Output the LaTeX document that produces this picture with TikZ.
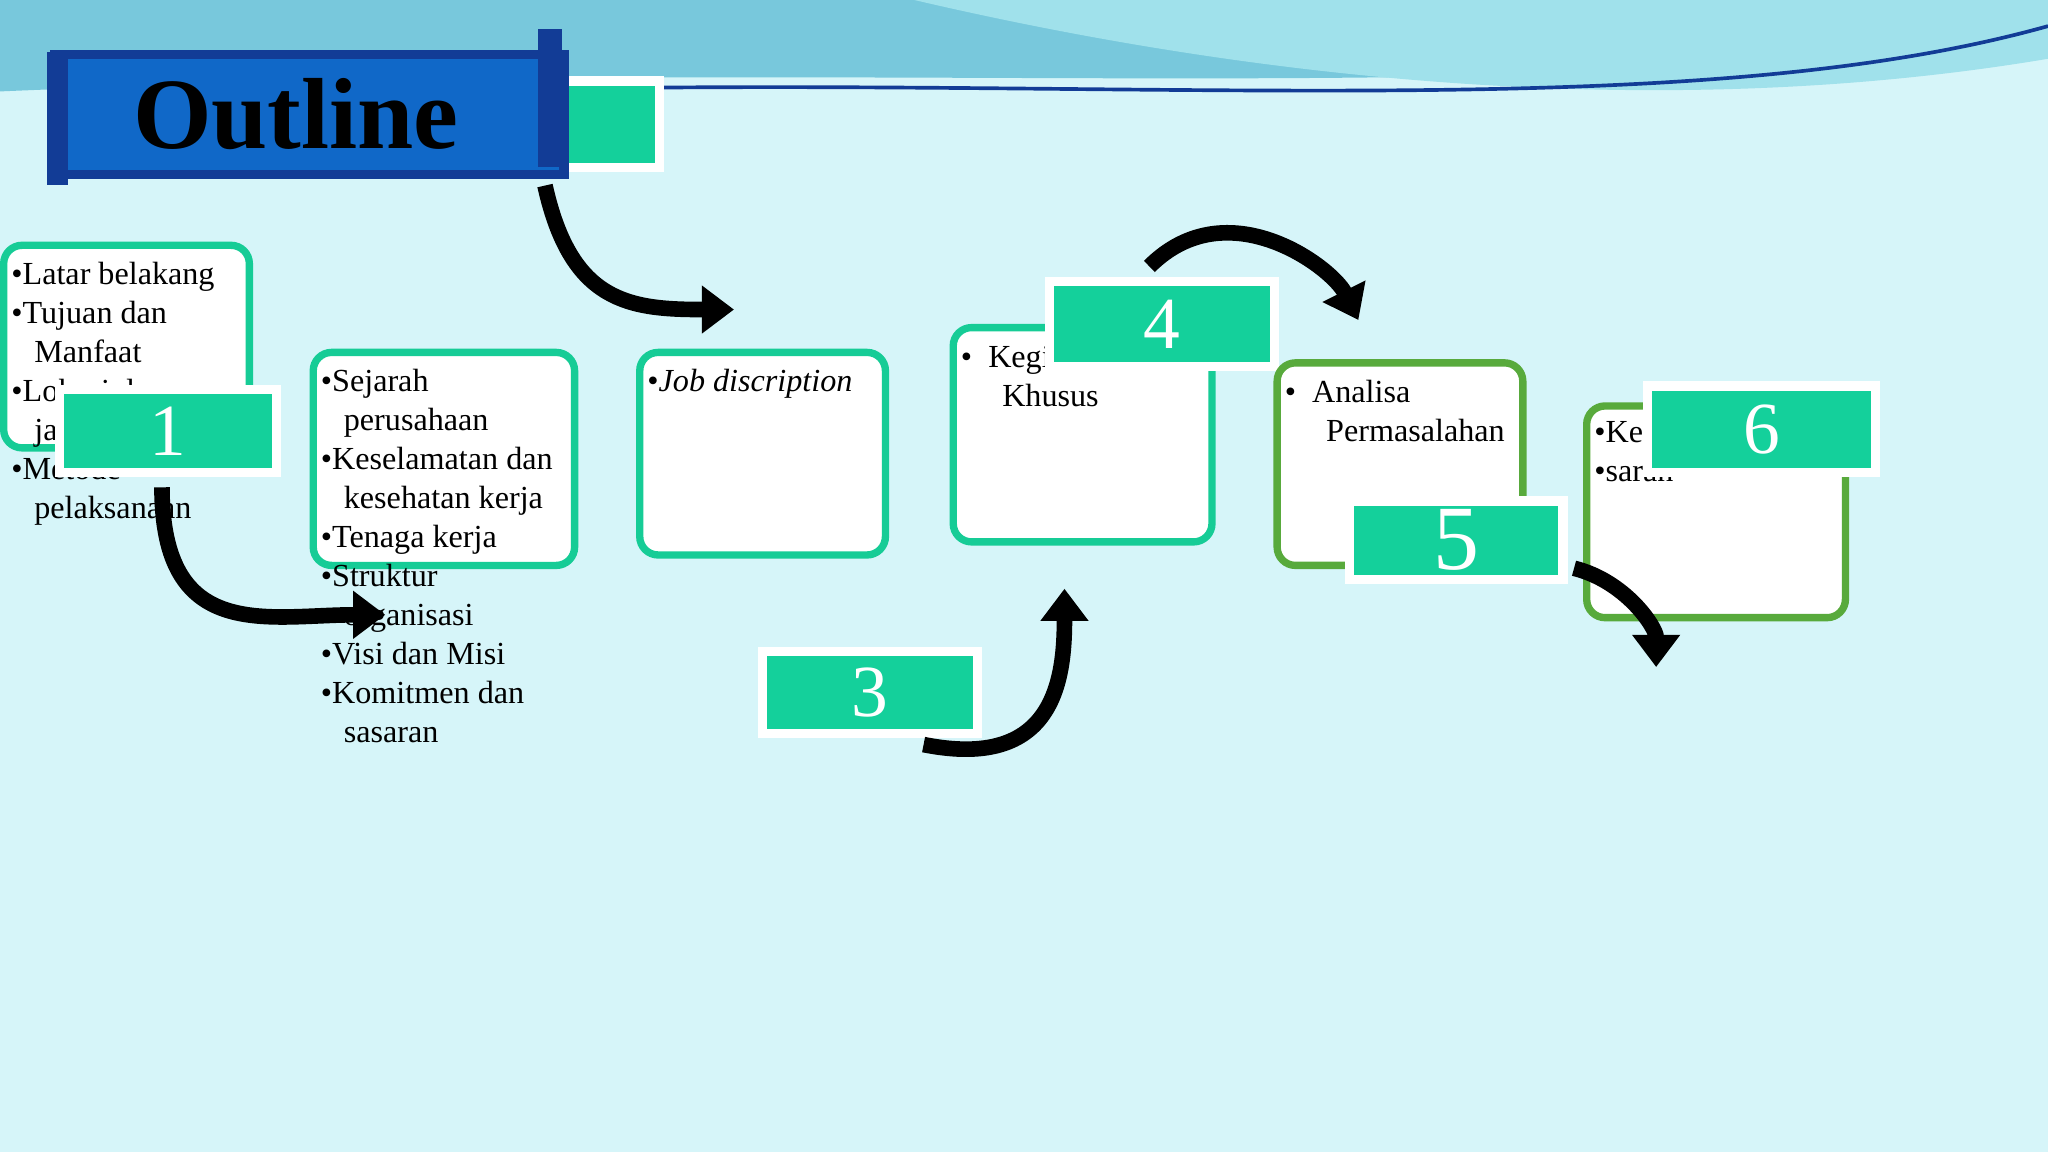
\documentclass[tikz,border=0pt]{standalone}
\usepackage{fontspec}
\setmainfont{Liberation Serif}
\usetikzlibrary{arrows.meta,positioning,calc}
\definecolor{bgcyan}{RGB}{214,245,249}
\definecolor{tealline}{RGB}{22,204,150}
\definecolor{greenline}{RGB}{88,170,60}
\definecolor{labelgreen}{RGB}{20,208,155}
\definecolor{bannerblue}{RGB}{16,104,200}
\definecolor{darkblue}{RGB}{18,60,150}
\definecolor{wavea}{RGB}{120,200,220}
\definecolor{waveb}{RGB}{160,225,235}
\tikzset{
  box/.style={draw=tealline,line width=1.6pt,fill=white,rounded corners=4pt,anchor=north west,inner sep=0pt},
  numlabel/.style={fill=labelgreen,draw=white,line width=2pt,text=white,font=\fontsize{16}{16}\selectfont,anchor=north west,inner sep=0pt},
  items/.style={anchor=north west,align=left,font=\fontsize{7}{8.5}\selectfont,inner sep=0pt},
  bend arrow/.style={line width=3.4pt,-{Triangle[length=7pt,width=10pt]}}
}
\newcommand{\ind}{\hspace*{5pt}}
\begin{document}
\begin{tikzpicture}[x=0.01cm,y=-0.01cm]
\fill[bgcyan] (0,0) rectangle (1568,882);
\useasboundingbox (0,0) rectangle (1568,882);
% waves on top
\fill[wavea] (0,0) -- (1568,0) -- (1568,20) .. controls (1200,90) and (700,40) .. (0,70) -- cycle;
\fill[waveb] (700,0) -- (1568,0) -- (1568,45) .. controls (1300,90) and (1000,70) .. (700,0) -- cycle;
\draw[darkblue,line width=0.8pt] (430,68) .. controls (900,60) and (1300,95) .. (1568,20);
% banner
\fill[labelgreen] (420,62) rectangle (505,128);
\draw[white,line width=2pt] (420,62) rectangle (505,128);
\node[fill=bannerblue,draw=darkblue,line width=2pt,anchor=north west,minimum width=3.9cm,minimum height=0.92cm,
  font=\bfseries\fontsize{22}{22}\selectfont] (banner) at (38,38) {\hspace*{-0.2cm}Outline};
\fill[darkblue] (36,40) rectangle (52,142);
\fill[darkblue] (412,22) rectangle (430,128);
% boxes
\node[box,minimum width=1.88cm,minimum height=1.55cm] (b1) at (0,185) {};
\node[items] (t1) at (8,200) {\textbullet Latar belakang\\\textbullet Tujuan dan\\\ind Manfaat\\\textbullet Lokasi dan\\\ind jadwal\\\textbullet Metode\\\ind pelaksanaan};
\node[numlabel,minimum width=1.66cm,minimum height=0.63cm] (n1) at (42,295) {1};
\node[box,minimum width=2.0cm,minimum height=1.63cm] (b2) at (237,267) {};
\node[items] (t2) at (245,282) {\textbullet Sejarah\\\ind perusahaan\\\textbullet Keselamatan dan\\\ind kesehatan kerja\\\textbullet Tenaga kerja\\\textbullet Struktur\\\ind organisasi\\\textbullet Visi dan Misi\\\textbullet Komitmen dan\\\ind sasaran};
\node[box,minimum width=1.88cm,minimum height=1.55cm] (b3) at (487,267) {};
\node[items] (t3) at (495,282) {\textbullet\textit{Job discription}};
\node[numlabel,minimum width=1.65cm,minimum height=0.63cm] (n3) at (580,495) {3};
\node[box,minimum width=1.98cm,minimum height=1.64cm] (b4) at (727,248) {};
\node[items] (t4) at (735,264) {\textbullet\ \ Kegiatan\\\hspace*{9pt}Khusus};
\node[numlabel,minimum width=1.72cm,minimum height=0.65cm] (n4) at (800,212) {4};
\node[box,draw=greenline,minimum width=1.88cm,minimum height=1.55cm] (b5) at (975,275) {};
\node[items] (t5) at (983,290) {\textbullet\ \ Analisa\\\hspace*{9pt}Permasalahan};
\node[numlabel,minimum width=1.63cm,minimum height=0.6cm,font=\fontsize{20}{20}\selectfont] (n5) at (1030,380) {5};
\node[box,draw=greenline,minimum width=1.98cm,minimum height=1.62cm] (b6) at (1212,308) {};
\node[items] (t6) at (1220,322) {\textbullet Ke\\\textbullet saran};
\node[numlabel,minimum width=1.74cm,minimum height=0.66cm] (n6) at (1258,292) {6};
% connectors
\draw[bend arrow] ($(n1.south west)+(82,8)$) .. controls +(0,120) and +(-90,0) .. ($(b2.south west)+(58,35)$);
\draw[bend arrow] ($(banner.south east)+(-18,5)$) .. controls +(20,90) and +(-80,0) .. ($(b3.north west)+(75,-30)$);
\draw[bend arrow] ($(n3.south east)+(-45,5)$) .. controls +(100,20) and +(0,70) .. ($(b4.south west)+(88,33)$);
\draw[bend arrow] ($(n4.north west)+(80,-8)$) .. controls +(60,-60) and +(-20,-40) .. ($(b5.north west)+(65,-30)$);
\draw[bend arrow] ($(n5.south east)+(5,-12)$) .. controls +(40,10) and +(0,-30) .. ($(b6.south west)+(56,35)$);
\end{tikzpicture}
\end{document}
